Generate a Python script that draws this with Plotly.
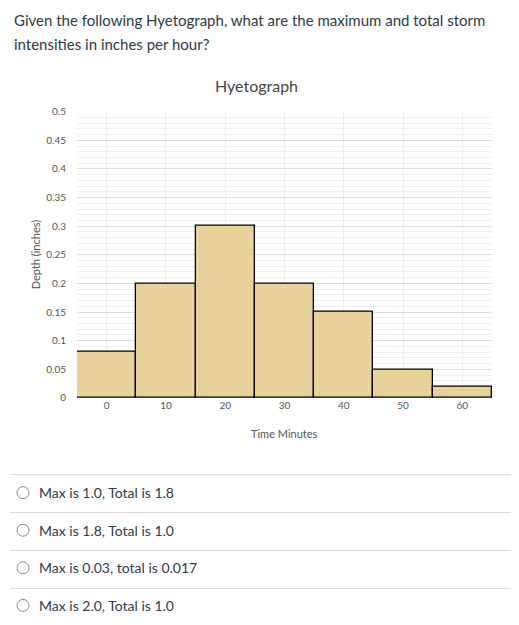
import plotly.graph_objects as go

times = ["0", "10", "20", "30", "40", "50", "60"]
depths = [0.08, 0.2, 0.3, 0.2, 0.15, 0.05, 0.02]
options = ["Max is 1.0, Total is 1.8", "Max is 1.8, Total is 1.0",
           "Max is 0.03, total is 0.017", "Max is 2.0, Total is 1.0"]

W, H = 519, 625
def px(x): return (x - 8) / W
def py(y): return 1 - ((y - 13) / 0.982) / H

fig = go.Figure(go.Bar(x=times, y=depths, marker=dict(color="#e9d29c", line=dict(color="black", width=1.3),
                       pattern=dict(shape=".", fgcolor="#d9bd7e", size=4, solidity=0.15))))

fig.update_layout(
    width=W, height=H, margin=dict(l=0, r=0, t=0, b=0),
    paper_bgcolor="white", plot_bgcolor="white", bargap=0, showlegend=False,
    font=dict(family="Lato", color="#333"),
    xaxis=dict(domain=[px(77), px(492)], type="category", showgrid=True, gridcolor="#eeeeee",
               tickfont=dict(size=10, color="#555"), ticks="", showline=False, fixedrange=True),
    yaxis=dict(domain=[py(397), py(110)], range=[0, 0.5], dtick=0.05, tickformat="~g",
               showgrid=True, gridcolor="#dddddd", tickfont=dict(size=10, color="#555"),
               minor=dict(dtick=0.01, showgrid=True, gridcolor="#f0f0f0"), zeroline=False, ticklabelstandoff=10),
)

for y, t in [(18, "Given the following Hyetograph, what are the maximum and total storm"),
             (42, "intensities in inches per hour?")]:
    fig.add_annotation(x=px(12), y=py(y), xref="paper", yref="paper", text=t, showarrow=False,
                       xanchor="left", yanchor="middle", font=dict(size=15, color="#2d3b45"))
fig.add_annotation(x=px(256), y=py(84), xref="paper", yref="paper", text="Hyetograph", showarrow=False,
                   yanchor="middle", font=dict(size=16, color="#444"))
fig.add_annotation(x=px(284), y=py(433), xref="paper", yref="paper", text="Time Minutes", showarrow=False,
                   yanchor="middle", font=dict(size=11, color="#555"))
fig.add_annotation(x=px(35), y=py(253), xref="paper", yref="paper", text="Depth (inches)", showarrow=False,
                   textangle=-90, xanchor="center", yanchor="middle", font=dict(size=11, color="#555"))

for i, t in enumerate(options):
    ysep = 474 + 38 * i
    fig.add_shape(type="line", xref="paper", yref="paper", x0=px(10), x1=1, y0=py(ysep), y1=py(ysep),
                  line=dict(color="#d8d8d8", width=1))
    yc = 492 + 37.7 * i
    fig.add_shape(type="circle", xref="paper", yref="paper", x0=px(17), x1=px(29), y0=py(yc + 6), y1=py(yc - 6),
                  line=dict(color="#888", width=1))
    fig.add_annotation(x=px(37), y=py(yc), xref="paper", yref="paper", text=t, showarrow=False,
                       xanchor="left", yanchor="middle", font=dict(size=14, color="#2d3b45"))

fig.write_html("out.html")
